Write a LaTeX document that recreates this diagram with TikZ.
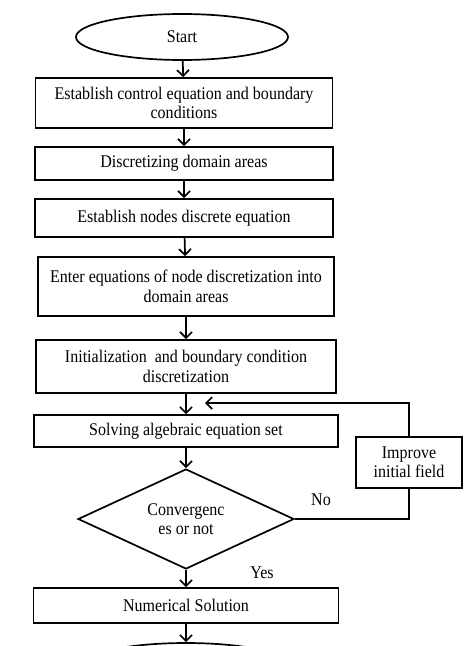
\documentclass[tikz,border=0pt]{standalone}
\usepackage{fontspec}
\setmainfont[FakeStretch=0.9]{Liberation Serif}
\usetikzlibrary{shapes.geometric,arrows.meta}
\begin{document}
\begin{tikzpicture}[x=1pt,y=-1pt,
  every node/.style={font=\fontsize{17.8}{19.5}\selectfont, align=center},
  box/.style={draw, line width=1.7pt, rectangle, inner sep=0pt},
  oval/.style={draw, line width=1.7pt, ellipse, inner sep=0pt, minimum width=212pt, minimum height=46pt},
  dia/.style={draw, line width=1.7pt, diamond, inner sep=0pt, aspect=2.16, minimum width=216pt, minimum height=100pt},
  arr/.style={line width=1.7pt, -{Straight Barb[length=6pt,width=12pt,line width=1.7pt]}},
  conn/.style={line width=1.7pt},
  lbl/.style={font=\fontsize{17.8}{19.5}\selectfont}]
\useasboundingbox (0,0) rectangle (474,646);
\clip (0,0) rectangle (474,646);
\fill[white] (0,0) rectangle (474,646);
\node[oval] (start) at (182,37) {Start};
\node[box, minimum width=297pt, minimum height=50pt] (b1) at (184,103) {Establish control equation and boundary\\conditions};
\node[box, minimum width=298pt, minimum height=33pt] (b2) at (184,163.5) {Discretizing domain areas};
\node[box, minimum width=298pt, minimum height=38pt] (b3) at (184,218) {Establish nodes discrete equation};
\node[box, minimum width=296pt, minimum height=59pt] (b4) at (186,286.5) {Enter equations of node discretization into\\domain areas};
\node[box, minimum width=300pt, minimum height=53pt] (b5) at (186,366.5) {Initialization~ and boundary condition\\discretization};
\node[box, minimum width=304pt, minimum height=32pt] (b6) at (186,431) {Solving algebraic equation set};
\node[box, minimum width=106pt, minimum height=51pt] (imp) at (409,462.5) {Improve\\initial field};
\node[dia] (dec) at (186,519) {Convergenc\\es or not};
\node[box, minimum width=305pt, minimum height=35pt] (num) at (186,605.5) {Numerical Solution};
\node[oval] (end) at (186,666) {};
\coordinate (fb) at (205,403);
\draw[arr] (start) -- (b1);
\draw[arr] (b1) -- (b2);
\draw[arr] (b2) -- (b3);
\draw[arr] (b3) -- (b4);
\draw[arr] (b4) -- (b5);
\draw[arr] (b5) -- (b6);
\draw[arr] (b6) -- (dec);
\draw[arr] (dec) -- (num);
\draw[arr] (num) -- (end);
\draw[conn] (dec.east) -| (imp.south);
\draw[arr] (imp.north) |- (fb);
\node[lbl] (no) at (321,500) {No};
\node[lbl] (yes) at (262,573) {Yes};
\end{tikzpicture}
\end{document}
